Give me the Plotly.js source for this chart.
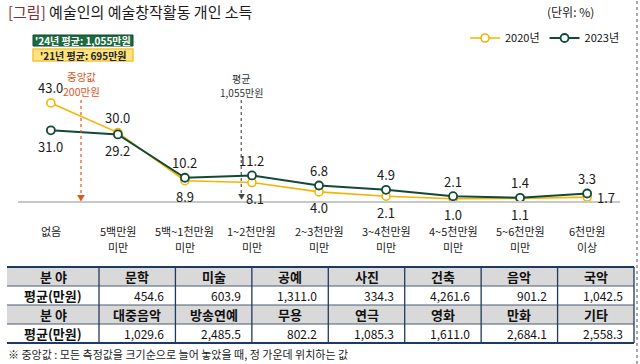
<!DOCTYPE html>
<html><head><meta charset="utf-8">
<script src="https://cdn.plot.ly/plotly-3.0.1.min.js"></script>
<style>html,body{margin:0;padding:0;background:#fff;}#chart{width:640px;height:364px;}</style>
</head><body><div id="chart"></div>
<script>
// ---- data ----
const categories = ['없음','5백만원<br>미만','5백~1천만원<br>미만','1~2천만원<br>미만','2~3천만원<br>미만','3~4천만원<br>미만','4~5천만원<br>미만','5~6천만원<br>미만','6천만원<br>이상'];
const series2020 = [43.0, 30.0, 8.9, 8.1, 4.0, 2.1, 1.0, 1.1, 1.7];
const series2023 = [31.0, 29.2, 10.2, 11.2, 6.8, 4.9, 2.1, 1.4, 3.3];
const fields1 = ['문학','미술','공예','사진','건축','음악','국악'];
const avg1 = [454.6, 603.9, 1311.0, 334.3, 4261.6, 901.2, 1042.5];
const fields2 = ['대중음악','방송연예','무용','연극','영화','만화','기타'];
const avg2 = [1029.6, 2485.5, 802.2, 1085.3, 1611.0, 2684.1, 2558.3];
const rowHeadField = '분 야';
const rowHeadAvg = '평균(만원)';
const mean2024 = '1,055만원';
const mean2021 = '695만원';
const medianText = '200만원';

// ---- layout helpers (styles/positions) ----
const W = 640, H = 364;
const px = v => v / W;
const py = v => 1 - v / H;
const FONT = '"Noto Sans CJK KR", "Noto Sans", sans-serif';
const C2020 = '#F4B400', C2023 = '#134A35';
const pos2020 = ['above','above','below','below','below','below','below','below','right'];
const pos2023 = ['below','below','above','above','above','above','above','above','above'];
const medianX = 0.45, meanX = 2.84;
const fmt = v => v.toLocaleString('en-US', {minimumFractionDigits:1, maximumFractionDigits:1});

const xs = categories.map((_, i) => i);

const traces = [
  {type:'scatter', mode:'lines+markers', name:'2020년', x: xs, y: series2020,
   line:{color:C2020, width:1.6}, marker:{symbol:'circle', size:8, color:'#fff', line:{color:C2020, width:1.6}},
   hoverinfo:'skip'},
  {type:'scatter', mode:'lines+markers', name:'2023년', x: xs, y: series2023,
   line:{color:C2023, width:2}, marker:{symbol:'circle', size:8, color:'#fff', line:{color:C2023, width:1.8}},
   hoverinfo:'skip'}
];

const ann = [];
const shapes = [];
// title
ann.push({xref:'paper', yref:'paper', x:px(6), y:py(12), xanchor:'left', yanchor:'middle', showarrow:false,
  text:'<span style="color:#8B2A2A">[그림]</span> 예술인의 예술창작활동 개인 소득', font:{family:FONT, size:15, color:'#1a1a1a'}});
ann.push({xref:'paper', yref:'paper', x:px(570), y:py(11), xanchor:'center', yanchor:'middle', showarrow:false,
  text:'(단위: %)', font:{family:FONT, size:12, color:'#1a1a1a'}});
// average boxes
shapes.push({type:'rect', xref:'paper', yref:'paper', x0:px(33), x1:px(133), y0:py(46), y1:py(35), fillcolor:'#1D6A40', line:{color:'#0F4A2B', width:1}, layer:'below'});
shapes.push({type:'rect', xref:'paper', yref:'paper', x0:px(33), x1:px(133), y0:py(61), y1:py(49), fillcolor:'#FFE37E', line:{color:'#F3C53A', width:1.5}, layer:'below'});
ann.push({xref:'paper', yref:'paper', x:px(83), y:py(40.5), xanchor:'center', yanchor:'middle', showarrow:false,
  text:"<b>'24년 평균: " + mean2024 + "</b>", font:{family:FONT, size:10, color:'#fff'}});
ann.push({xref:'paper', yref:'paper', x:px(83), y:py(55), xanchor:'center', yanchor:'middle', showarrow:false,
  text:"<b>'21년 평균: " + mean2021 + "</b>", font:{family:FONT, size:10, color:'#222'}});
// median / mean notes
ann.push({xref:'x', yref:'paper', x:medianX, y:py(76.5), xanchor:'center', yanchor:'middle', showarrow:false,
  text:'중앙값', font:{family:FONT, size:10.5, color:'#E0561C'}, borderpad:0});
ann.push({xref:'x', yref:'paper', x:medianX, y:py(91), xanchor:'center', yanchor:'middle', showarrow:false,
  text:medianText, font:{family:FONT, size:10.5, color:'#E0561C'}, borderpad:0});
ann.push({xref:'x', yref:'paper', x:meanX, y:py(78), xanchor:'center', yanchor:'middle', showarrow:false,
  text:'평균', font:{family:FONT, size:10, color:'#333'}, borderpad:0});
ann.push({xref:'x', yref:'paper', x:meanX, y:py(92), xanchor:'center', yanchor:'middle', showarrow:false,
  text:mean2024, font:{family:FONT, size:10, color:'#333'}, borderpad:0});
ann.push({xref:'x', yref:'paper', x:medianX, y:py(197), xanchor:'center', yanchor:'middle', showarrow:false,
  text:'▼', font:{family:FONT, size:8, color:'#E0561C'}});
ann.push({xref:'x', yref:'paper', x:meanX, y:py(196), xanchor:'center', yanchor:'middle', showarrow:false,
  text:'▼', font:{family:FONT, size:7, color:'#444'}});
shapes.push({type:'line', xref:'x', yref:'paper', x0:medianX, x1:medianX, y0:py(100), y1:py(193), line:{color:'#E0561C', width:1.2, dash:'dot'}});
shapes.push({type:'line', xref:'x', yref:'paper', x0:meanX, x1:meanX, y0:py(100), y1:py(193), line:{color:'#555', width:1.2, dash:'dot'}});
// data labels
function addLabels(vals, pos, extraX){
  vals.forEach((v, i) => {
    let xs_ = 0, ys_ = 0, xa = 'center';
    if (pos[i] === 'above') ys_ = 15;
    else if (pos[i] === 'below') ys_ = -16;
    else { xs_ = 8; xa = 'left'; ys_ = 0; }
    ann.push({xref:'x', yref:'y', x:i, y:v, xshift:xs_ + (extraX[i]||0), yshift:ys_, xanchor:xa, yanchor:'middle',
      showarrow:false, text: v.toFixed(1), font:{family:FONT, size:13, color:'#1a1a1a'}});
  });
}
addLabels(series2020, pos2020, {3:3});
addLabels(series2023, pos2023, {});
// category labels (two lines, 16px apart)
categories.forEach((c, i) => {
  c.split('<br>').forEach((line, k) => {
    ann.push({xref:'x', yref:'paper', x:i, y:py(231 + 16 * k), xanchor:'center', yanchor:'middle', showarrow:false,
      text: line, font:{family:FONT, size:11, color:'#1a1a1a'}});
  });
});

// ---- table built from the arrays ----
const rowY = [267, 286, 305, 324, 343];
const colX = [7, 99];
for (let i = 1; i <= 7; i++) colX.push(99 + i * (634 - 99) / 7);
const tableRows = [
  {head: rowHeadField, vals: fields1, header: true},
  {head: rowHeadAvg, vals: avg1.map(fmt), header: false},
  {head: rowHeadField, vals: fields2, header: true},
  {head: rowHeadAvg, vals: avg2.map(fmt), header: false}
];
tableRows.forEach((row, r) => {
  shapes.push({type:'rect', xref:'paper', yref:'paper', x0:px(colX[0]), x1:px(colX[8]), y0:py(rowY[r+1]), y1:py(rowY[r]),
    fillcolor: row.header ? '#D9D9D9' : '#FFFFFF', line:{width:0}, layer:'below'});
  const yc = (rowY[r] + rowY[r+1]) / 2;
  ann.push({xref:'paper', yref:'paper', x:px((colX[0]+colX[1])/2), y:py(yc), xanchor:'center', yanchor:'middle', showarrow:false,
    text:'<b>' + row.head + '</b>', font:{family:FONT, size:13, color:'#111'}});
  row.vals.forEach((v, c) => {
    if (row.header) {
      ann.push({xref:'paper', yref:'paper', x:px((colX[c+1]+colX[c+2])/2), y:py(yc), xanchor:'center', yanchor:'middle', showarrow:false,
        text:'<b>' + v + '</b>', font:{family:FONT, size:13, color:'#111'}});
    } else {
      ann.push({xref:'paper', yref:'paper', x:px(colX[c+2]-9), y:py(yc), xanchor:'right', yanchor:'middle', showarrow:false,
        text: v, font:{family:FONT, size:12, color:'#111'}});
    }
  });
});
for (let r = 1; r < 4; r++) {
  shapes.push({type:'line', xref:'paper', yref:'paper', x0:px(colX[0]), x1:px(colX[8]), y0:py(rowY[r]), y1:py(rowY[r]), line:{color:'#4A5A70', width:1}});
}
for (let c = 1; c <= 8; c++) {
  shapes.push({type:'line', xref:'paper', yref:'paper', x0:px(colX[c]), x1:px(colX[c]), y0:py(rowY[4]), y1:py(rowY[0]), line:{color:'#1F3A5F', width:1.3}});
}
shapes.push({type:'line', xref:'paper', yref:'paper', x0:px(colX[0]), x1:px(colX[8]), y0:py(rowY[0]), y1:py(rowY[0]), line:{color:'#1F3A5F', width:2}});
shapes.push({type:'line', xref:'paper', yref:'paper', x0:px(colX[0]), x1:px(colX[8]), y0:py(rowY[4]), y1:py(rowY[4]), line:{color:'#1F3A5F', width:2}});
// right dotted frame
shapes.push({type:'line', xref:'paper', yref:'paper', x0:px(637), x1:px(637), y0:0, y1:1, line:{color:'#555', width:1, dash:'dot'}});

// footnote
ann.push({xref:'paper', yref:'paper', x:px(6), y:py(354), xanchor:'left', yanchor:'middle', showarrow:false,
  text:'※ 중앙값 : 모든 측정값을 크기순으로 늘어 놓았을 때, 정 가운데 위치하는 값', font:{family:FONT, size:11, color:'#222'}});

const layout = {
  width:W, height:H, margin:{l:0, r:0, t:0, b:0},
  paper_bgcolor:'#fff', plot_bgcolor:'rgba(0,0,0,0)',
  font:{family:FONT, color:'#222'},
  showlegend:true,
  legend:{orientation:'h', x:px(625), xanchor:'right', y:py(38), yanchor:'middle',
          font:{family:FONT, size:11, color:'#111'}, bgcolor:'rgba(0,0,0,0)', itemwidth:30, tracegroupgap:0},
  xaxis:{domain:[px(18), px(620)], range:[-0.49, 8.49], tickmode:'array', tickvals:xs, ticktext:categories,
         showticklabels:false, showgrid:false, zeroline:false, showline:true, linecolor:'#C8C8C8', linewidth:1.5, ticks:'',
         fixedrange:true},
  yaxis:{domain:[py(201), py(70)], range:[0, 131/2.28], visible:false, showgrid:false, zeroline:false, fixedrange:true},
  annotations: ann,
  shapes: shapes
};
Plotly.newPlot('chart', traces, layout, {displayModeBar:false, staticPlot:true});
</script>
</body></html>
